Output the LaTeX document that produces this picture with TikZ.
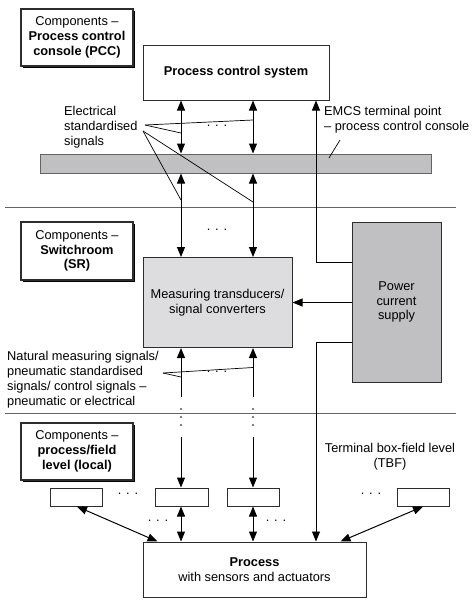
\documentclass[tikz,border=0pt]{standalone}
\usepackage{fontspec}
\setmainfont{Liberation Sans}
\usetikzlibrary{arrows.meta,calc}
\definecolor{edge}{RGB}{45,45,45}
\definecolor{bargray}{RGB}{192,192,194}
\definecolor{mtgray}{RGB}{221,221,223}
\definecolor{sepgray}{RGB}{100,100,100}
\tikzset{
  txt/.style={font=\fontsize{12.8}{14.8}\selectfont, align=center, inner sep=0pt},
  box/.style={draw=edge, line width=1pt, fill=white, inner sep=0pt, font=\fontsize{12.8}{14.8}\selectfont, align=center},
  compbox/.style={box, minimum width=112pt, minimum height=57pt, line width=1.1pt},
  smallbox/.style={box, minimum width=52pt, minimum height=18pt},
  tip/.style={-{Triangle[length=10pt,width=8pt]}, line width=1pt, draw=black},
  wtip/.style={-{Triangle[length=10pt,width=8pt]}, line width=0.85pt, draw=black},
  dtip/.style={{Triangle[length=10pt,width=8pt]}-{Triangle[length=10pt,width=8pt]}, line width=1pt, draw=black},
  lead/.style={line width=0.7pt, draw=black},
  sep/.style={line width=0.9pt, draw=sepgray},
  dots/.style={font=\fontsize{12.8}{14.8}\selectfont, inner sep=0pt},
}
\begin{document}
\begin{tikzpicture}[x=1pt,y=-1pt]
\useasboundingbox (0,0) rectangle (476,606);
% column coordinates
\coordinate (ca) at (181,0);
\coordinate (cb) at (253,0);
\coordinate (ce) at (316,0);

% separators
\draw[sep] (5,207) -- (456,207);
\draw[sep] (5,413) -- (456,413);

% terminal bar
\node[draw=sepgray, line width=1pt, fill=bargray, minimum width=391pt, minimum height=19pt, inner sep=0pt] (bar) at (235.5,163.5) {};

% component boxes with shadows
\fill[black] (23,11) rectangle (135,68);
\node[compbox] (cpcc) at (77,37.5) {Components --\\\textbf{Process control}\\\textbf{console (PCC)}};
\fill[black] (23,224) rectangle (135,282);
\node[compbox, minimum height=58pt] (csr) at (77,251) {Components --\\\textbf{Switchroom}\\\textbf{(SR)}};
\fill[black] (23,425) rectangle (135,482);
\node[compbox] (cfl) at (77,451.5) {Components --\\\textbf{process/field}\\\textbf{level (local)}};

% main boxes
\node[box, minimum width=186pt, minimum height=55pt] (pcs) at (236,72.5) {\textbf{Process control system}};
\node[box, fill=mtgray, minimum width=149pt, minimum height=90pt] (mt) at (217.5,302.5) {Measuring transducers/\\signal converters};
\node[box, fill=bargray, minimum width=89pt, minimum height=160pt] (pwr) at (396.5,302) {Power\\current\\supply};
\node[box, minimum width=223pt, minimum height=55pt] (proc) at (254.5,569.5) {\textbf{Process}\\with sensors and actuators};

% small terminal boxes
\node[smallbox] (b1) at (76.5,497) {};
\node[smallbox, minimum width=53pt] (b2) at (181.5,497) {};
\node[smallbox] (b3) at (253,497) {};
\node[smallbox] (b4) at (423,497) {};

% EMCS line and power lines
\draw[wtip] (pwr.west |- {(0,262)}) -| (pcs.south -| ce);
\draw[wtip] (pwr.west |- {(0,342)}) -| (proc.north -| ce);
\draw[wtip] (pwr.west |- mt.east) -- (mt.east);

% arrows PCS <-> bar
\draw[dtip] (pcs.south -| ca) -- (bar.north -| ca);
\draw[dtip] (pcs.south -| cb) -- (bar.north -| cb);
\node[dots] (d1) at (217,126) {. . .};
% arrows bar <-> MT
\draw[dtip] (bar.south -| ca) -- (mt.north -| ca);
\draw[dtip] (bar.south -| cb) -- (mt.north -| cb);
\node[dots] (d2) at (217,230) {. . .};

% arrows into MT from below
\coordinate (ua) at (181,397);
\coordinate (ub) at (253,397);
\draw[tip] (ua) -- (mt.south -| ca);
\draw[tip] (ub) -- (mt.south -| cb);
\node[dots] (d3) at (217,372) {. . .};
\foreach \x in {181,253}{
  \foreach \y in {409,417,425}{
    \fill (\x,\y) circle (0.9pt);
  }
}
\coordinate (la) at (181,437);
\coordinate (lb) at (253,437);
\draw[tip] (la) -- (b2.north -| ca);
\draw[tip] (lb) -- (b3.north -| cb);

% field level arrows
\draw[dtip] (b2.south -| ca) -- (proc.north -| ca);
\draw[dtip] (b3.south -| cb) -- (proc.north -| cb);
\draw[dtip] ($(b1.south)+(0.5,0)$) -- ($(proc.north west)+(15,0)$);
\draw[dtip] (b4.south) -- ($(proc.north west)+(198,0)$);
\node[dots] (d4) at (128,494) {. . .};
\node[dots] (d5) at (371,494) {. . .};
\node[dots] (d6) at (158,521) {. . .};
\node[dots] (d7) at (276,521) {. . .};

% labels
\node[txt, align=left, anchor=west] (lel) at (64,127) {Electrical\\standardised\\signals};
\coordinate (o1) at (145,125);
\coordinate (o2) at (143,131);
\draw[lead] (o1) -- (253,120);
\draw[lead] (o1) -- (181,133);
\draw[lead] (o2) -- (181,200);
\draw[lead] (o2) -- (253,202);

\node[txt, align=left, anchor=west] (lemcs) at (324,120) {EMCS terminal point\\-- process control console};
\draw[lead] (340,140) -- (329,158);

\node[txt, align=left, anchor=west] (lnat) at (7,379.5) {Natural measuring signals/\\pneumatic standardised\\signals/ control signals --\\pneumatic or electrical};
\coordinate (o3) at (163,373);
\draw[lead] (o3) -- (253,367.5);
\draw[lead] (o3) -- (181,377);

\node[txt] (ltbf) at (390,457) {Terminal box-field level\\(TBF)};
\end{tikzpicture}
\end{document}
